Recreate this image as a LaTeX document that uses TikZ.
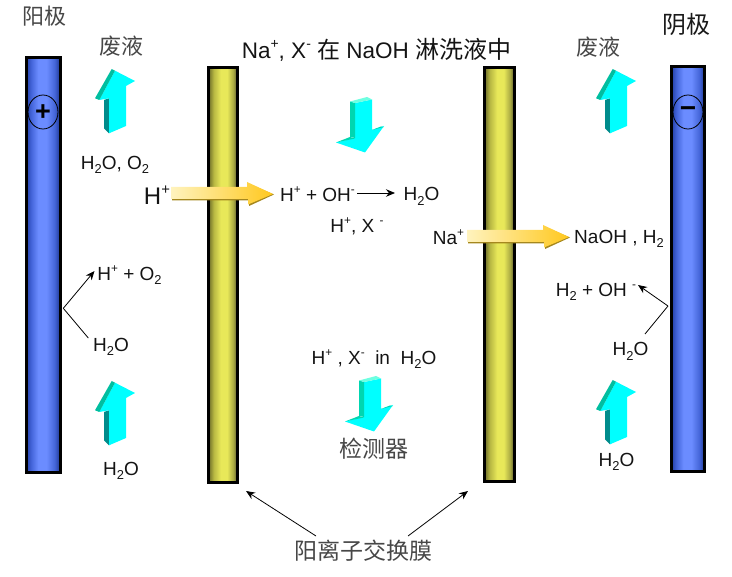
\documentclass[tikz,border=0pt]{standalone}
\usepackage{fontspec}
\setmainfont{Liberation Sans}
\newfontfamily\cjk{Noto Sans CJK SC}
\usetikzlibrary{arrows.meta,shapes.geometric}
\pgfdeclarehorizontalshading{bluebar}{100bp}{rgb(0bp)=(.14,.25,.66); rgb(25bp)=(.14,.25,.66); rgb(33bp)=(.27,.40,.86); rgb(43bp)=(.42,.55,1); rgb(55bp)=(.42,.55,1); rgb(67bp)=(.27,.40,.85); rgb(75bp)=(.12,.22,.58); rgb(100bp)=(.12,.22,.58)}
\pgfdeclarehorizontalshading{yellowbar}{100bp}{rgb(0bp)=(.42,.42,.16); rgb(25bp)=(.42,.42,.16); rgb(34bp)=(.72,.72,.26); rgb(46bp)=(.91,.91,.35); rgb(57bp)=(.91,.91,.35); rgb(68bp)=(.66,.66,.26); rgb(75bp)=(.32,.32,.16); rgb(100bp)=(.32,.32,.16)}
\definecolor{cy}{RGB}{0,255,255}
\definecolor{cyband}{RGB}{0,190,160}
\definecolor{cyside}{RGB}{0,140,140}
\definecolor{cygreen}{RGB}{0,214,176}
\definecolor{cylight}{RGB}{110,255,225}
\definecolor{goldlo}{RGB}{255,243,190}
\definecolor{goldhi}{RGB}{255,200,30}
\definecolor{goldsh}{RGB}{165,135,30}
\newcommand{\dnn}[1]{\raisebox{-.24em}{\scalebox{.68}{#1}}}
\newcommand{\upp}[1]{\raisebox{.42em}{\scalebox{.62}{#1}}}
\tikzset{
  x=1pt,y=-1pt,
  bar/.style={draw=black,line width=3pt,minimum width=#1,inner sep=0pt,outer sep=0pt},
  lab/.style={inner sep=0pt,outer sep=0pt,font=\fontsize{19}{20}\selectfont,text=black!92},
  big/.style={lab,font=\fontsize{24}{26}\selectfont},
  title/.style={lab,font=\fontsize{22.5}{24}\selectfont},
  han/.style={inner sep=0pt,outer sep=0pt,font=\cjk\fontsize{22}{24}\selectfont,text=black!72},
  conn/.style={line width=.8pt,black},
  tip/.style={-{Stealth[length=9pt,width=7.5pt]}},
  uparr/.pic={
    \fill[cyside] (9,31)--(14,29.3)--(14,64.3)--(9,59.3)--cycle;
    \fill[cy] (20,1.7)--(40,12)--(31,17)--(31,57)--(14,64.3)--(14,29.3)--(4.3,31)--cycle;
    \fill[cyband] (0,29.3)--(16.7,0)--(20,1.7)--(4.3,31)--cycle;
  },
  dnarr/.pic={
    \fill[cy] (19,6)--(36,2.5)--(36,33)--(48,29)--(29,55.5)--(0,45.5)--(19,41)--cycle;
    \fill[cygreen] (14,4.5)--(19,6)--(19,41)--(14,40)--cycle;
    \fill[cygreen] (0,45.5)--(14,40)--(19,41.5)--cycle;
    \fill[cygreen] (36,33)--(45,29.5)--(48,30)--cycle;
    \fill[cylight] (14,4.5)--(31,0)--(36,2.5)--(19,6)--cycle;
  },
  goldarr/.pic={
    \fill[goldsh] (1,1.5)--(76,1.5)--(76,-4)--(103,7.5)--(78,19)--(78,13.5)--(1,13.5)--cycle;
    \shade[left color=goldlo,right color=goldhi] (0,0)--(76,0)--(76,-5)--(102,7)--(77,17.5)--(77,12)--(0,12)--cycle;
  }
}
\begin{document}
\begin{tikzpicture}
\useasboundingbox (0,0) rectangle (732,577);
% electrodes and membranes
\node[bar=34pt,minimum height=415pt,shading=bluebar] (anode) at (43,265.5) {};
\node[bar=33pt,minimum height=405pt,shading=bluebar] (cathode) at (688,269.5) {};
\node[bar=29pt,minimum height=415pt,shading=yellowbar] (memL) at (223,275) {};
\node[bar=30pt,minimum height=414pt,shading=yellowbar] (memR) at (499.5,274.5) {};
% polarity
\node[draw=black,line width=.8pt,ellipse,minimum width=30pt,minimum height=34pt,inner sep=0pt] (plusc) at (43,112) {};
\node[inner sep=0pt,font=\bfseries\fontsize{27}{27}\selectfont] (plust) at (43,112.5) {+};
\node[draw=black,line width=.8pt,ellipse,minimum width=30pt,minimum height=34pt,inner sep=0pt] (minusc) at (688,112) {};
\node[inner sep=0pt,font=\bfseries\fontsize{28}{28}\selectfont] (minust) at (688,112) {\char"2212};
% block arrows
\pic at (95,69) {uparr};
\pic at (95,381) {uparr};
\pic at (596,69) {uparr};
\pic at (596,380) {uparr};
\pic at (336,97) {dnarr};
\pic at (345,376) {dnarr};
\pic at (171,187) {goldarr};
\pic at (467,230) {goldarr};
% headings
\node[han] (t1) at (45,16) {阳极};
\node[han,font=\cjk\fontsize{24}{26}\selectfont,text=black!90] (t2) at (686.5,24) {阴极};
\node[han] (t3) at (121,46) {废液};
\node[han] (t4) at (598,47) {废液};
\node[title] (t5) at (376.5,49.5) {Na\upp{+}, X\upp{-} {\cjk\fontsize{23}{24}\selectfont 在} NaOH {\cjk\fontsize{24}{24}\selectfont 淋洗液中}};
\node[han,font=\cjk\fontsize{23}{24}\selectfont] (t6) at (374,449) {检测器};
\node[han,font=\cjk\fontsize{23}{24}\selectfont] (t7) at (363.5,551) {阳离子交换膜};
% formula labels
\node[lab] (a1) at (115,165) {H\dnn{2}O, O\dnn{2}};
\node[big] (a2) at (157,195) {H\upp{+}};
\node[lab] (a3) at (129.5,275) {H\upp{+} + O\dnn{2}};
\node[lab] (a4) at (111,347) {H\dnn{2}O};
\node[lab] (a5) at (121,471) {H\dnn{2}O};
\node[lab] (b1) at (317.5,194.5) {H\upp{+} + OH\upp{-}};
\node[lab] (b2) at (421.5,196.5) {H\dnn{2}O};
\node[lab] (b3) at (357,226) {H\upp{+}, X \upp{-}};
\node[lab] (b4) at (374,359) {H\upp{+} , X\upp{-}\ \ in\ \ H\dnn{2}O};
\node[lab] (c1) at (448.5,237) {Na\upp{+}};
\node[lab] (c2) at (619,239) {NaOH , H\dnn{2}};
\node[lab] (c3) at (596,292) {H\dnn{2} + OH \upp{-}};
\node[lab] (c4) at (630.5,351.5) {H\dnn{2}O};
\node[lab] (c5) at (616.5,462) {H\dnn{2}O};
% connector ends
\coordinate (reactA) at (63.3,308.3);
\coordinate (toA3) at (94.5,271);
\coordinate (fromA4) at (88.3,338);
\coordinate (reactC) at (668,306);
\coordinate (toC3) at (638,285);
\coordinate (fromC4) at (645,334);
\coordinate (fromB1) at (357,193);
\coordinate (toB2) at (395,193);
\coordinate (fromLabL) at (316,536);
\coordinate (toMemL) at (246,491);
\coordinate (fromLabR) at (408,536);
\coordinate (toMemR) at (468,491);
\draw[conn] (fromA4) -- (reactA);
\draw[conn,tip] (reactA) -- (toA3);
\draw[conn] (fromC4) -- (reactC);
\draw[conn,tip] (reactC) -- (toC3);
\draw[conn,tip] (fromB1) -- (toB2);
\draw[conn,tip] (fromLabL) -- (toMemL);
\draw[conn,tip] (fromLabR) -- (toMemR);
\end{tikzpicture}
\end{document}
